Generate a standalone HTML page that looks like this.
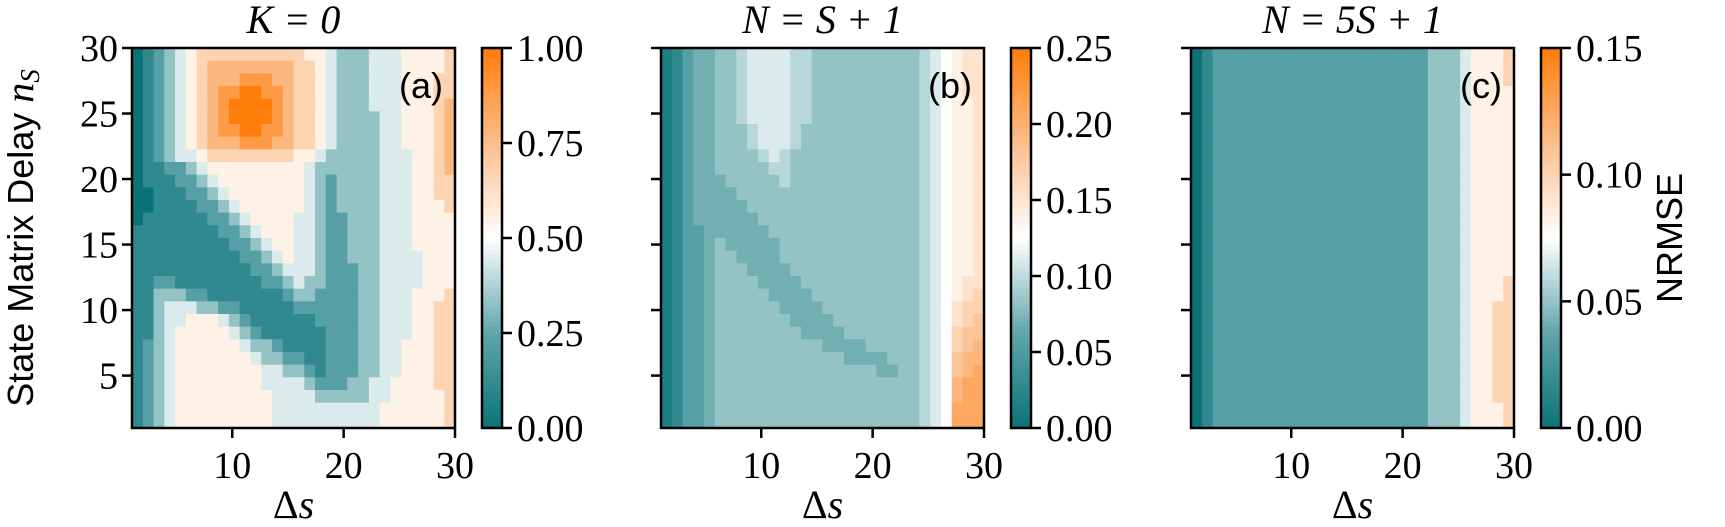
<!DOCTYPE html>
<html><head><meta charset="utf-8"><style>
body{margin:0;background:#fff;}
svg{display:block;}
text{fill:#000;}
.serif{font-family:"Liberation Serif",serif;}
.sans{font-family:"Liberation Sans",sans-serif;}
</style></head><body>
<svg id="fig" width="1725" height="527" viewBox="0 0 1725 527" xmlns="http://www.w3.org/2000/svg"></svg>
<script>
// ---- data: rows from y=30 (top) to y=1 (bottom); char (base36) n => normalized value n/levels of colorbar max ----
const panelTitles = ["K = 0", "N = S + 1", "N = 5S + 1"];
const panelTags = ["(a)", "(b)", "(c)"];
const colorMax = [1.0, 0.25, 0.15];
const levels = [9, 18, 9];
const cbTicksA = ["0.00","0.25","0.50","0.75","1.00"];
const cbTicksB = ["0.00","0.05","0.10","0.15","0.20","0.25"];
const cbTicksC = ["0.00","0.05","0.10","0.15"];
const xTicks = [10, 20, 30];
const yTicks = [5, 10, 15, 20, 25, 30];
const gridA = [
"012345666666666655433344455556",
"012345677777777665433344455556",
"012345677788877665433344455566",
"012345678899887665433344455566",
"012345678999987665433344455567",
"012345678999987665433334455567",
"012345678899887665433334455567",
"012345677788877665433334455567",
"012344566666666554333334445567",
"011223455555555543333334445567",
"011122345555555543233334445566",
"001112234555555543233334445566",
"001111223455555543233334445556",
"011111122345555443223334445555",
"111111112234555443223334445555",
"111111111223455443223334445555",
"111111111122345443223334444555",
"111111111112234443222334444555",
"112211111111223433222334444555",
"113332211111112332222334445556",
"113444332211111222222334445566",
"113445554321111112222334445566",
"113455555432111111222334445566",
"123455555543321111222334455566",
"123455555554332211222334455566",
"123455555555443321222334455566",
"123455555555444432223344555566",
"123455555555544443333344555556",
"123455555555544444444445555556",
"123455555555544444444445555556"];
const gridB = [
"124556678888776666666666789abb",
"124556678888776666666666789abb",
"124556678888776666666666789abb",
"124556678888776666666666789abb",
"124556678888776666666666789aab",
"124556678888776666666666789aab",
"124556667888766666666666789aab",
"124556667888766666666666789aab",
"124556666787666666666666789aab",
"124556666677666666666666789aab",
"124555666667666666666666789aab",
"124555566666666666666666789aab",
"124555556666666666666666789aab",
"124555555666666666666666789aab",
"124455555566666666666666789aab",
"124456555556666666666666789aab",
"124456655556666666666666789aab",
"124456665555666666666666789aab",
"124456666555566666666666789abb",
"124456666655556666666666789abc",
"124456666665555666666666789bcc",
"124456666666555566666666789bcd",
"124456666666655556666666789cdd",
"124456666666666555566666789cde",
"124456666666666665555666789dee",
"124456666666666666665566789def",
"124456666666666666666666789eff",
"124456666666666666666666789eff",
"124456666666666666666666789fff",
"124456666666666666666666789fff"];
const gridC = [
"012222222222222222222233345556",
"012222222222222222222233345556",
"012222222222222222222233345556",
"012222222222222222222233345555",
"012222222222222222222233345555",
"012222222222222222222233345555",
"012222222222222222222233345555",
"012222222222222222222233345555",
"012222222222222222222233345555",
"012222222222222222222233345555",
"012222222222222222222233345555",
"012222222222222222222233345555",
"012222222222222222222233345555",
"012222222222222222222233345555",
"012222222222222222222233345555",
"012222222222222222222233345555",
"012222222222222222222233345555",
"012222222222222222222233345555",
"012222222222222222222233345556",
"012222222222222222222233345556",
"012222222222222222222233345566",
"012222222222222222222233345566",
"012222222222222222222233345566",
"012222222222222222222233345566",
"012222222222222222222233345566",
"012222222222222222222233345566",
"012222222222222222222233345566",
"012222222222222222222233345566",
"012222222222222222222233345556",
"012222222222222222222233345556"];

const NS = "http://www.w3.org/2000/svg";
const svg = document.getElementById('fig');
const stops = [[0,[10,115,120]],[0.25,[95,165,170]],[0.5,[255,255,255]],[0.75,[252,190,140]],[1,[255,125,10]]];
function cmap(t){
  t = Math.max(0, Math.min(1, t));
  for (let i = 1; i < stops.length; i++) {
    if (t <= stops[i][0]) {
      const a = stops[i-1], b = stops[i];
      const f = (t - a[0]) / (b[0] - a[0]);
      const c = a[1].map((v, k) => Math.round(v + (b[1][k] - v) * f));
      return `rgb(${c[0]},${c[1]},${c[2]})`;
    }
  }
  return 'rgb(255,125,10)';
}
function mk(tag, attrs, parent){
  const e = document.createElementNS(NS, tag);
  for (const k in attrs) e.setAttribute(k, attrs[k]);
  (parent || svg).appendChild(e);
  return e;
}
const lefts = [132, 661, 1191];
const TOP = 48, W = 323, H = 380, CBW = 20, CBOFF = 350;
const grids = [gridA, gridB, gridC];
const cbTicks = [cbTicksA, cbTicksB, cbTicksC];
const names = ['a','b','c'];
function xScale(L, v){ return L + (v - 1) / 29 * W; }
function yScale(v){ return TOP + H - (v - 1) / 29 * H; }

for (let p = 0; p < 3; p++) {
  const L = lefts[p];
  const g = mk('g', {});
  
  
  const grid = grids[p];
  const nr = grid.length, nc = grid[0].length;
  const cw = W / nc, ch = H / nr;
  for (let r = 0; r < nr; r++) {
    for (let c = 0; c < nc; c++) {
      const d = parseInt(grid[r][c], 36);
      const rect = mk('rect', {x: L + c*cw, y: TOP + r*ch, width: cw + 0.6, height: ch + 0.6, fill: cmap(d/levels[p])}, g);
      
      
    }
  }
  const frame = mk('rect', {x: L, y: TOP, width: W, height: H, fill: 'none', stroke: '#000', 'stroke-width': 2.5});
  
  
  xTicks.forEach(v => {
    const x = xScale(L, v);
    mk('line', {x1: x, y1: TOP+H, x2: x, y2: TOP+H+10, stroke: '#000', 'stroke-width': 2.5});
    const t = mk('text', {x: x, y: 478, 'text-anchor': 'middle', 'font-size': 38, class: 'serif'});
    t.textContent = v;
    
    
  });
  yTicks.forEach(v => {
    const y = yScale(v);
    mk('line', {x1: L-10, y1: y, x2: L, y2: y, stroke: '#000', 'stroke-width': 2.5});
    if (p === 0) {
      const t = mk('text', {x: L-14, y: y+13, 'text-anchor': 'end', 'font-size': 38, class: 'serif'});
      t.textContent = v;
      
      
    }
  });
  const xl = mk('text', {x: L + W/2, y: 518, 'text-anchor': 'middle', 'font-size': 40, class: 'serif'});
  xl.innerHTML = 'Δ<tspan font-style="italic">s</tspan>';
  
  
  const tt = mk('text', {x: L + W/2, y: 33, 'text-anchor': 'middle', 'font-size': 40, 'font-style': 'italic', class: 'serif'});
  tt.textContent = panelTitles[p];
  
  
  const tg = mk('text', {x: L + W - 12, y: 98, 'text-anchor': 'end', 'font-size': 36, class: 'sans'});
  tg.textContent = panelTags[p];
  
  
  const CL = L + CBOFF;
  const cb = mk('g', {});
  
  
  const N = 100;
  for (let i = 0; i < N; i++) {
    mk('rect', {x: CL, y: TOP + H - (i+1)*H/N, width: CBW, height: H/N + 0.6, fill: cmap((i+0.5)/N)}, cb);
  }
  mk('rect', {x: CL, y: TOP, width: CBW, height: H, fill: 'none', stroke: '#000', 'stroke-width': 2.5}, cb);
  cbTicks[p].forEach(s => {
    const y = TOP + H - (+s / colorMax[p]) * H;
    mk('line', {x1: CL+CBW, y1: y, x2: CL+CBW+10, y2: y, stroke: '#000', 'stroke-width': 2.5}, cb);
    const t = mk('text', {x: CL+CBW+15, y: y+13, 'font-size': 38, class: 'serif'}, cb);
    t.textContent = s;
    
    
  });
}
const yl = mk('text', {x: 0, y: 0, 'text-anchor': 'middle', 'font-size': 36, class: 'sans', transform: 'translate(33,238) rotate(-90)'});
yl.innerHTML = 'State Matrix Delay <tspan class="serif" font-style="italic" font-size="40">n</tspan><tspan class="serif" font-style="italic" font-size="27" dy="6">S</tspan>';


const cl = mk('text', {x: 0, y: 0, 'text-anchor': 'middle', 'font-size': 36, class: 'sans', transform: 'translate(1682,238) rotate(-90)'});
cl.textContent = 'NRMSE';


</script>
</body></html>
